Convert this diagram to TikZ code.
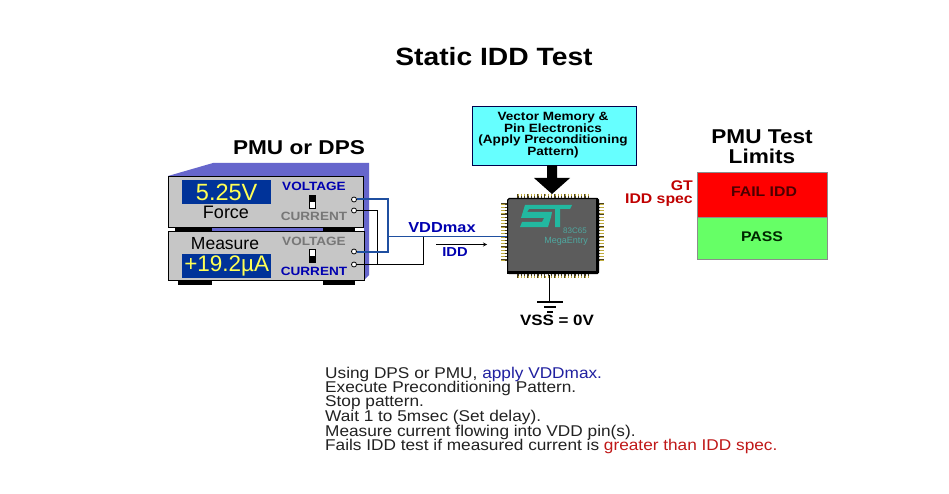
\documentclass[tikz,border=0pt]{standalone}
\usepackage{fontspec}
\setmainfont{Liberation Sans}[FakeStretch=1.13]
\newfontfamily\plainfont{Liberation Sans}
\newfontfamily\bodyfont{Liberation Sans}[FakeStretch=1.105]
\usetikzlibrary{calc}
\definecolor{facegray}{HTML}{C6C6C6}
\definecolor{sideblue}{HTML}{6666CC}
\definecolor{dispblue}{HTML}{003399}
\definecolor{wireblue}{HTML}{1F4FA0}
\definecolor{labelblue}{HTML}{0000B0}
\definecolor{dimgray}{HTML}{777777}
\definecolor{dispyellow}{HTML}{FFFF55}
\definecolor{cyanbox}{HTML}{66FFFF}
\definecolor{chipgray}{HTML}{5C5C5C}
\definecolor{chipteal}{HTML}{22B8A0}
\definecolor{chiptext}{HTML}{4FA8A0}
\definecolor{pingold}{HTML}{C0AC40}
\definecolor{pindark}{HTML}{4A4020}
\definecolor{failred}{HTML}{FF0000}
\definecolor{passgreen}{HTML}{66FF66}
\definecolor{darkred}{HTML}{C00000}
\definecolor{textred}{HTML}{C01818}
\definecolor{textblue}{HTML}{2020A0}
\definecolor{bodytext}{HTML}{222222}
\tikzset{
  x=1pt,y=-1pt,
  heading/.style={font=\bfseries\fontsize{25}{25}\selectfont,inner sep=0pt,align=center},
  subheading/.style={font=\bfseries\fontsize{20}{20}\selectfont,inner sep=0pt,align=center},
  panelface/.style={draw=black,line width=0.7pt,fill=facegray},
  display/.style={fill=dispblue,draw=none,text=dispyellow,inner sep=0pt,anchor=north west},
  switchlabel/.style={font=\bfseries\fontsize{12}{12}\selectfont,inner sep=0pt},
  panelname/.style={inner sep=0pt},
  terminal/.style={circle,draw=black,fill=white,line width=0.8pt,minimum size=5pt,inner sep=0pt},
  wireb/.style={wireblue,line width=2pt},
  wirebthin/.style={wireblue,line width=1.5pt},
  wirek/.style={black,line width=1pt},
  limitbox/.style={draw=black!45,line width=0.6pt,minimum width=130pt,inner sep=0pt,anchor=north west},
  limittext/.style={inner sep=0pt,font=\bfseries\fontsize{14}{14}\selectfont},
  bodyline/.style={anchor=base west,inner sep=0pt,text=bodytext,font=\bodyfont\fontsize{15.6}{15.6}\selectfont},
  sigbold/.style={font=\bfseries\fontsize{14}{14}\selectfont,inner sep=0pt},
}
\begin{document}
\begin{tikzpicture}
\useasboundingbox (0,0) rectangle (949,494);
\fill[white] (0,0) rectangle (949,494);

\node[heading] (title) at (494,57) {Static IDD Test};
\node[subheading] (pmutitle) at (299,148) {PMU or DPS};

% instrument body
\fill[sideblue] (168,176) -- (213,163) -- (369,163) -- (369,275) -- (364,280) -- (364,176) -- cycle;
\fill[black] (178,280) rectangle (212,285);
\fill[black] (323,280) rectangle (355,285);
\fill[black] (175,227) rectangle (212,231);
\fill[sideblue] (212,227) rectangle (323,231);
\fill[black] (323,227) rectangle (355,231);

\node[panelface,minimum width=195pt,minimum height=51pt,inner sep=0pt,anchor=north west] (upper) at (168,176) {};
\node[panelface,minimum width=196pt,minimum height=49pt,inner sep=0pt,anchor=north west] (lower) at (168,231) {};

\node[display,minimum width=89pt,minimum height=24pt,font=\plainfont\fontsize{23.5}{23.5}\selectfont] (forcedisp) at (182,180) {5.25V};
\node[panelname,font=\plainfont\fontsize{18}{18}\selectfont] (force) at (226,212) {Force};
\node[panelname,font=\plainfont\fontsize{17.5}{17.5}\selectfont] (measure) at (225,244) {Measure};
\node[display,minimum width=89pt,minimum height=24pt,font=\plainfont\fontsize{22.5}{22.5}\selectfont] (measdisp) at (182,254) {+19.2µA};

\node[switchlabel,text=labelblue] (volt1) at (314,186) {VOLTAGE};
\node[switchlabel,text=dimgray] (curr1) at (314,216) {CURRENT};
\node[switchlabel,text=dimgray] (volt2) at (314,241) {VOLTAGE};
\node[switchlabel,text=labelblue] (curr2) at (314,271) {CURRENT};

% switches
\draw[black,line width=0.5pt,fill=white] (309,195) rectangle (315,208);
\fill[black] (309,195) rectangle (315,202);
\draw[black,line width=0.5pt,fill=white] (309,249) rectangle (315,262);
\fill[black] (309,256) rectangle (315,262);

% terminals
\node[terminal] (t1) at (354,199.5) {};
\node[terminal] (t2) at (354,210.5) {};
\node[terminal] (t3) at (354,251.5) {};
\node[terminal] (t4) at (354,264.5) {};

% pins of the chip
\foreach \i in {0,...,21}{
  \draw[pindark,line width=1.3pt] ({518+\i*3.35},194) -- ({518+\i*3.35},199);
  \draw[pindark,line width=1.3pt] ({518+\i*3.35},273) -- ({518+\i*3.35},278);
  \draw[pingold,line width=0.6pt] ({518+\i*3.35},194) -- ({518+\i*3.35},196);
  \draw[pingold,line width=0.6pt] ({518+\i*3.35},276) -- ({518+\i*3.35},278);
}
\foreach \i in {0,...,17}{
  \draw[pindark,line width=1.3pt] (501,{204+\i*3.3}) -- (508,{204+\i*3.3});
  \draw[pindark,line width=1.3pt] (597,{204+\i*3.3}) -- (604,{204+\i*3.3});
  \draw[pingold,line width=0.8pt] (501,{204+\i*3.3}) -- (505,{204+\i*3.3});
  \draw[pingold,line width=0.8pt] (600,{204+\i*3.3}) -- (604,{204+\i*3.3});
}
\node[draw=black,line width=1.2pt,fill=chipgray,minimum width=91pt,minimum height=75pt,inner sep=0pt,rounded corners=1.5pt,anchor=north west] (chip) at (507,198) {};
\fill[black] (507,271) rectangle (598,274);
\fill[black] (596,198) rectangle (598,274);
\fill[chipteal] (525,205) -- (572,205) -- (570,209) -- (560,209) -- (560,227) -- (555,227) -- (555,209) -- (529,209) -- (527,212) -- (552,212) -- (551,217) -- (548,227) -- (520,227) -- (522,222) -- (542,222) -- (544,218) -- (521,218) -- cycle;
\node[inner sep=0pt,text=chiptext,font=\plainfont\fontsize{8}{8}\selectfont,anchor=east] (chipmark1) at (587,231) {83C65};
\node[inner sep=0pt,text=chiptext,font=\plainfont\fontsize{9}{9}\selectfont,anchor=east] (chipmark2) at (588,241) {MegaEntry};

% wires
\coordinate (bluejoin) at (388,236.5);
\coordinate (blackjoin) at (423.5,236.5);
\draw[wirek] (t2.east) -- (377.5,210.5) -- (377.5,264.5);
\draw[wirek] (t4.east) -- (423.5,264.5) -- (blackjoin);
\draw[wireb] (t1.east) -- (388,199.5) -- (388,251.5) -- (t3.east);
\draw[wirebthin] (bluejoin) -- (chip.west |- bluejoin);

\node[sigbold,text=labelblue,font=\bfseries\fontsize{14.5}{14.5}\selectfont] (vdd) at (442,228) {VDDmax};
\node[sigbold,text=labelblue,font=\bfseries\fontsize{13}{13}\selectfont] (iddlabel) at (455,252) {IDD};
\coordinate (iddstart) at (436,244.5);
\coordinate (iddend) at (487,244.5);
\draw[black,line width=0.8pt,-stealth] (iddstart) -- (iddend);

% vector memory box
\node[draw=black!70!blue,line width=0.9pt,fill=cyanbox,minimum width=164pt,minimum height=59pt,inner sep=0pt,anchor=north west] (vmbox) at (472,106) {};
\node[inner sep=0pt,align=center,font=\bfseries\fontsize{12}{11.7}\selectfont] (vmtext) at (553,135) {Vector Memory \&\\Pin Electronics\\(Apply Preconditioning\\Pattern)};
\fill[black] (547,165.5) -- (557,165.5) -- (557,178) -- (570,178) -- (552,194) -- (534,178) -- (547,178) -- cycle;

% ground
\coordinate (gnd) at (549.5,302);
\draw[black,line width=0.9pt] (549.5,275) -- (gnd);
\draw[black,line width=1.1pt] (537,302) -- (563,302);
\draw[black,line width=1.1pt] (544,307) -- (556,307);
\draw[black,line width=1.1pt] (547,312) -- (553,312);
\node[sigbold,font=\bfseries\fontsize{15}{15}\selectfont] (vss) at (557,320) {VSS = 0V};

% limits
\node[subheading] (limtitle) at (762,147) {PMU Test\\Limits};
\node[limitbox,fill=failred,minimum height=45pt] (fail) at (697,172) {};
\node[limitbox,fill=passgreen,minimum height=42pt] (pass) at (697,217) {};
\node[limittext,text=black!70!red] (failtext) at (764,192) {FAIL IDD};
\node[limittext,text=black!85!green] (passtext) at (762,237) {PASS};
\node[sigbold,text=darkred,anchor=east] (gt) at (693,186) {GT};
\node[sigbold,text=darkred,anchor=east] (spec) at (693,200) {IDD spec};

% description
\node[bodyline] (l1) at (325,378) {Using DPS or PMU, \textcolor{textblue}{apply VDDmax.}};
\node[bodyline] (l2) at (325,392) {Execute Preconditioning Pattern.};
\node[bodyline] (l3) at (325,406) {Stop pattern.};
\node[bodyline] (l4) at (325,421) {Wait 1 to 5msec (Set delay).};
\node[bodyline] (l5) at (325,436) {Measure current flowing into VDD pin(s).};
\node[bodyline] (l6) at (325,450) {Fails IDD test if measured current is \textcolor{textred}{greater than  IDD spec.}};
\end{tikzpicture}
\end{document}
